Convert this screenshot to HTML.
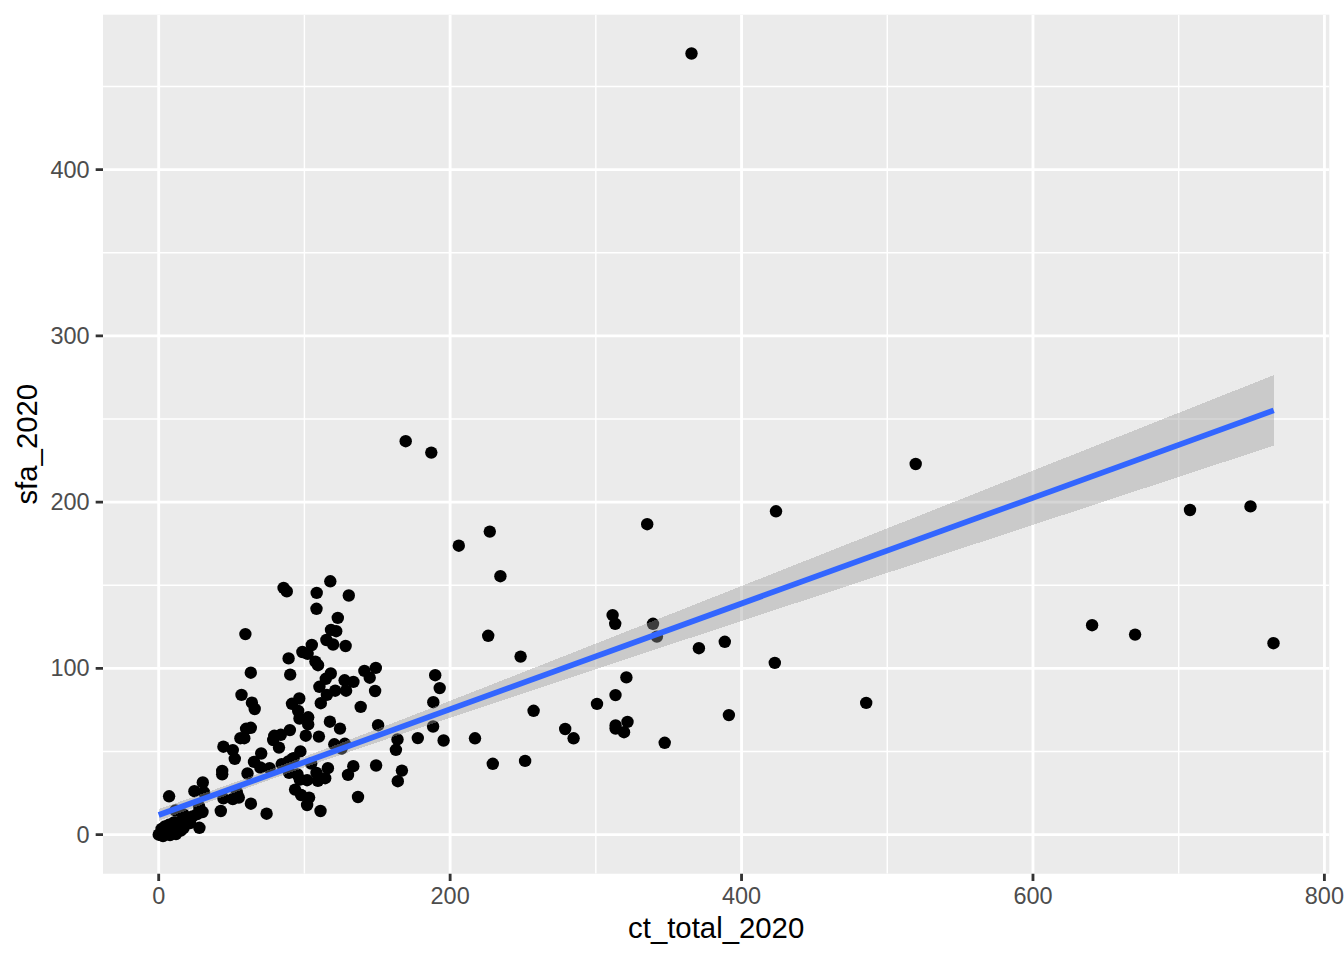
<!DOCTYPE html><html><head><meta charset="utf-8"><style>html,body{margin:0;padding:0;background:#fff;}svg{display:block;}text{font-family:"Liberation Sans",sans-serif;}</style></head><body>
<svg width="1344" height="960" viewBox="0 0 1344 960">
<rect x="0" y="0" width="1344" height="960" fill="#fff"/>
<rect x="103.0" y="14.67" width="1226.33" height="859.08" fill="#EBEBEB"/>
<clipPath id="c"><rect x="103.0" y="14.67" width="1226.33" height="859.08"/></clipPath>
<g clip-path="url(#c)">
<path d="M304.41 14.67V873.75M595.84 14.67V873.75M887.27 14.67V873.75M1178.69 14.67V873.75M103.0 751.57H1329.33M103.0 585.30H1329.33M103.0 419.03H1329.33M103.0 252.75H1329.33M103.0 86.49H1329.33" stroke="#fff" stroke-width="1.42" fill="none"/>
<path d="M158.70 14.67V873.75M450.13 14.67V873.75M741.55 14.67V873.75M1032.98 14.67V873.75M1324.40 14.67V873.75M103.0 834.70H1329.33M103.0 668.43H1329.33M103.0 502.16H1329.33M103.0 335.89H1329.33M103.0 169.62H1329.33" stroke="#fff" stroke-width="2.84" fill="none"/>
<g fill="#000">
<circle cx="691.5" cy="53.5" r="6.2"/>
<circle cx="405.7" cy="441.2" r="6.2"/>
<circle cx="431.3" cy="452.6" r="6.2"/>
<circle cx="458.8" cy="545.7" r="6.2"/>
<circle cx="489.8" cy="531.6" r="6.2"/>
<circle cx="647.2" cy="524.2" r="6.2"/>
<circle cx="776.0" cy="511.3" r="6.2"/>
<circle cx="915.7" cy="464.0" r="6.2"/>
<circle cx="1190.0" cy="510.0" r="6.2"/>
<circle cx="1250.5" cy="506.4" r="6.2"/>
<circle cx="612.6" cy="615.1" r="6.2"/>
<circle cx="615.2" cy="623.8" r="6.2"/>
<circle cx="653.0" cy="623.8" r="6.2"/>
<circle cx="656.9" cy="636.6" r="6.2"/>
<circle cx="698.9" cy="648.2" r="6.2"/>
<circle cx="724.8" cy="641.8" r="6.2"/>
<circle cx="774.8" cy="662.9" r="6.2"/>
<circle cx="626.4" cy="677.4" r="6.2"/>
<circle cx="488.2" cy="635.8" r="6.2"/>
<circle cx="520.6" cy="656.6" r="6.2"/>
<circle cx="615.5" cy="695.1" r="6.2"/>
<circle cx="597.0" cy="703.9" r="6.2"/>
<circle cx="533.6" cy="710.8" r="6.2"/>
<circle cx="565.2" cy="729.0" r="6.2"/>
<circle cx="573.6" cy="738.3" r="6.2"/>
<circle cx="615.6" cy="725.4" r="6.2"/>
<circle cx="615.6" cy="728.6" r="6.2"/>
<circle cx="627.5" cy="721.9" r="6.2"/>
<circle cx="624.0" cy="732.2" r="6.2"/>
<circle cx="664.7" cy="742.8" r="6.2"/>
<circle cx="475.0" cy="738.3" r="6.2"/>
<circle cx="443.6" cy="740.5" r="6.2"/>
<circle cx="435.2" cy="675.2" r="6.2"/>
<circle cx="439.7" cy="688.1" r="6.2"/>
<circle cx="433.3" cy="702.2" r="6.2"/>
<circle cx="728.9" cy="715.1" r="6.2"/>
<circle cx="866.2" cy="702.9" r="6.2"/>
<circle cx="1092.1" cy="625.2" r="6.2"/>
<circle cx="1135.1" cy="634.6" r="6.2"/>
<circle cx="1273.5" cy="643.2" r="6.2"/>
<circle cx="245.4" cy="634.1" r="6.2"/>
<circle cx="283.6" cy="587.9" r="6.2"/>
<circle cx="286.8" cy="591.4" r="6.2"/>
<circle cx="330.3" cy="581.3" r="6.2"/>
<circle cx="316.7" cy="592.9" r="6.2"/>
<circle cx="348.8" cy="595.5" r="6.2"/>
<circle cx="316.5" cy="608.8" r="6.2"/>
<circle cx="337.8" cy="617.9" r="6.2"/>
<circle cx="331.0" cy="629.9" r="6.2"/>
<circle cx="336.2" cy="631.2" r="6.2"/>
<circle cx="326.4" cy="640.0" r="6.2"/>
<circle cx="333.1" cy="644.5" r="6.2"/>
<circle cx="345.6" cy="646.0" r="6.2"/>
<circle cx="311.8" cy="645.0" r="6.2"/>
<circle cx="288.6" cy="658.4" r="6.2"/>
<circle cx="302.4" cy="652.0" r="6.2"/>
<circle cx="307.6" cy="653.8" r="6.2"/>
<circle cx="315.4" cy="661.6" r="6.2"/>
<circle cx="318.0" cy="665.2" r="6.2"/>
<circle cx="250.8" cy="672.7" r="6.2"/>
<circle cx="290.2" cy="674.6" r="6.2"/>
<circle cx="330.8" cy="673.5" r="6.2"/>
<circle cx="325.8" cy="678.8" r="6.2"/>
<circle cx="319.4" cy="686.8" r="6.2"/>
<circle cx="326.9" cy="694.9" r="6.2"/>
<circle cx="335.2" cy="690.7" r="6.2"/>
<circle cx="344.6" cy="680.3" r="6.2"/>
<circle cx="353.4" cy="681.9" r="6.2"/>
<circle cx="346.1" cy="690.7" r="6.2"/>
<circle cx="364.4" cy="670.9" r="6.2"/>
<circle cx="369.7" cy="677.7" r="6.2"/>
<circle cx="320.8" cy="703.2" r="6.2"/>
<circle cx="360.7" cy="706.9" r="6.2"/>
<circle cx="241.5" cy="694.9" r="6.2"/>
<circle cx="251.9" cy="702.7" r="6.2"/>
<circle cx="254.7" cy="709.0" r="6.2"/>
<circle cx="299.3" cy="698.5" r="6.2"/>
<circle cx="292.0" cy="703.8" r="6.2"/>
<circle cx="298.2" cy="711.0" r="6.2"/>
<circle cx="375.8" cy="667.9" r="6.2"/>
<circle cx="375.1" cy="691.0" r="6.2"/>
<circle cx="250.8" cy="727.8" r="6.2"/>
<circle cx="246.1" cy="728.8" r="6.2"/>
<circle cx="240.4" cy="738.2" r="6.2"/>
<circle cx="244.3" cy="738.2" r="6.2"/>
<circle cx="289.9" cy="730.1" r="6.2"/>
<circle cx="280.8" cy="734.8" r="6.2"/>
<circle cx="274.3" cy="735.8" r="6.2"/>
<circle cx="273.2" cy="740.0" r="6.2"/>
<circle cx="279.0" cy="747.6" r="6.2"/>
<circle cx="261.2" cy="753.5" r="6.2"/>
<circle cx="254.0" cy="761.9" r="6.2"/>
<circle cx="299.5" cy="718.5" r="6.2"/>
<circle cx="308.2" cy="717.3" r="6.2"/>
<circle cx="308.2" cy="724.4" r="6.2"/>
<circle cx="329.9" cy="721.7" r="6.2"/>
<circle cx="340.0" cy="728.6" r="6.2"/>
<circle cx="305.8" cy="735.7" r="6.2"/>
<circle cx="318.9" cy="736.6" r="6.2"/>
<circle cx="334.3" cy="744.3" r="6.2"/>
<circle cx="344.8" cy="743.8" r="6.2"/>
<circle cx="223.4" cy="746.7" r="6.2"/>
<circle cx="232.8" cy="750.1" r="6.2"/>
<circle cx="234.8" cy="758.8" r="6.2"/>
<circle cx="222.2" cy="771.0" r="6.2"/>
<circle cx="222.2" cy="774.3" r="6.2"/>
<circle cx="260.3" cy="767.5" r="6.2"/>
<circle cx="269.6" cy="768.2" r="6.2"/>
<circle cx="247.5" cy="773.5" r="6.2"/>
<circle cx="300.4" cy="751.4" r="6.2"/>
<circle cx="293.7" cy="758.1" r="6.2"/>
<circle cx="281.7" cy="764.1" r="6.2"/>
<circle cx="288.4" cy="761.5" r="6.2"/>
<circle cx="311.2" cy="763.5" r="6.2"/>
<circle cx="289.1" cy="772.9" r="6.2"/>
<circle cx="299.8" cy="779.6" r="6.2"/>
<circle cx="307.1" cy="780.2" r="6.2"/>
<circle cx="316.5" cy="772.9" r="6.2"/>
<circle cx="317.9" cy="780.9" r="6.2"/>
<circle cx="325.2" cy="778.2" r="6.2"/>
<circle cx="327.9" cy="768.2" r="6.2"/>
<circle cx="295.1" cy="789.6" r="6.2"/>
<circle cx="301.1" cy="795.0" r="6.2"/>
<circle cx="309.1" cy="797.6" r="6.2"/>
<circle cx="307.1" cy="805.0" r="6.2"/>
<circle cx="320.5" cy="811.0" r="6.2"/>
<circle cx="353.3" cy="766.2" r="6.2"/>
<circle cx="348.0" cy="774.9" r="6.2"/>
<circle cx="376.1" cy="765.5" r="6.2"/>
<circle cx="358.0" cy="797.0" r="6.2"/>
<circle cx="250.9" cy="803.7" r="6.2"/>
<circle cx="266.6" cy="813.7" r="6.2"/>
<circle cx="220.8" cy="811.0" r="6.2"/>
<circle cx="223.4" cy="798.3" r="6.2"/>
<circle cx="232.8" cy="799.0" r="6.2"/>
<circle cx="238.8" cy="797.6" r="6.2"/>
<circle cx="292.4" cy="759.0" r="6.2"/>
<circle cx="202.8" cy="782.5" r="6.2"/>
<circle cx="194.4" cy="791.2" r="6.2"/>
<circle cx="204.0" cy="792.3" r="6.2"/>
<circle cx="236.9" cy="792.5" r="6.2"/>
<circle cx="169.1" cy="796.3" r="6.2"/>
<circle cx="158.7" cy="834.7" r="6.2"/>
<circle cx="161.6" cy="829.0" r="6.2"/>
<circle cx="163.5" cy="833.2" r="6.2"/>
<circle cx="165.0" cy="826.5" r="6.2"/>
<circle cx="168.5" cy="830.0" r="6.2"/>
<circle cx="169.0" cy="824.8" r="6.2"/>
<circle cx="173.8" cy="831.3" r="6.2"/>
<circle cx="174.0" cy="822.5" r="6.2"/>
<circle cx="178.0" cy="827.0" r="6.2"/>
<circle cx="180.8" cy="830.5" r="6.2"/>
<circle cx="180.8" cy="821.1" r="6.2"/>
<circle cx="183.6" cy="828.1" r="6.2"/>
<circle cx="185.0" cy="824.0" r="6.2"/>
<circle cx="187.8" cy="818.8" r="6.2"/>
<circle cx="190.0" cy="823.0" r="6.2"/>
<circle cx="192.5" cy="816.4" r="6.2"/>
<circle cx="197.2" cy="814.1" r="6.2"/>
<circle cx="175.5" cy="810.5" r="6.2"/>
<circle cx="199.4" cy="827.8" r="6.2"/>
<circle cx="202.5" cy="812.0" r="6.2"/>
<circle cx="199.1" cy="806.5" r="6.2"/>
<circle cx="378.1" cy="725.2" r="6.2"/>
<circle cx="397.5" cy="739.4" r="6.2"/>
<circle cx="395.9" cy="749.8" r="6.2"/>
<circle cx="417.8" cy="738.1" r="6.2"/>
<circle cx="401.9" cy="770.6" r="6.2"/>
<circle cx="397.8" cy="781.2" r="6.2"/>
<circle cx="492.8" cy="763.8" r="6.2"/>
<circle cx="525.1" cy="760.9" r="6.2"/>
<circle cx="500.4" cy="576.2" r="6.2"/>
<circle cx="163.0" cy="836.0" r="6.2"/>
<circle cx="170.0" cy="835.0" r="6.2"/>
<circle cx="176.0" cy="834.0" r="6.2"/>
<circle cx="183.5" cy="814.5" r="6.2"/>
<circle cx="341.5" cy="748.5" r="6.2"/>
<circle cx="433.1" cy="726.5" r="6.2"/>
<circle cx="297.5" cy="774.5" r="6.2"/>
</g>
<path d="M158.70 809.06 L172.64 804.24 L186.57 799.39 L200.51 794.50 L214.45 789.58 L228.39 784.62 L242.32 779.61 L256.26 774.55 L270.20 769.46 L284.14 764.31 L298.07 759.13 L312.01 753.91 L325.95 748.65 L339.89 743.37 L353.82 738.05 L367.76 732.71 L381.70 727.34 L395.64 721.96 L409.57 716.57 L423.51 711.15 L437.45 705.73 L451.39 700.29 L465.32 694.85 L479.26 689.40 L493.20 683.94 L507.14 678.47 L521.07 673.00 L535.01 667.52 L548.95 662.04 L562.89 656.55 L576.82 651.07 L590.76 645.57 L604.70 640.08 L618.64 634.58 L632.57 629.08 L646.51 623.58 L660.45 618.08 L674.39 612.57 L688.32 607.07 L702.26 601.56 L716.20 596.05 L730.14 590.54 L744.07 585.03 L758.01 579.51 L771.95 574.00 L785.89 568.48 L799.82 562.97 L813.76 557.45 L827.70 551.93 L841.63 546.41 L855.57 540.90 L869.51 535.38 L883.45 529.86 L897.38 524.34 L911.32 518.82 L925.26 513.29 L939.20 507.77 L953.13 502.25 L967.07 496.73 L981.01 491.20 L994.95 485.68 L1008.88 480.16 L1022.82 474.63 L1036.76 469.11 L1050.70 463.58 L1064.63 458.06 L1078.57 452.54 L1092.51 447.01 L1106.45 441.48 L1120.38 435.96 L1134.32 430.43 L1148.26 424.91 L1162.20 419.38 L1176.13 413.85 L1190.07 408.33 L1204.01 402.80 L1217.95 397.27 L1231.88 391.75 L1245.82 386.22 L1259.76 380.69 L1273.70 375.16 L1273.70 445.65 L1259.76 450.24 L1245.82 454.82 L1231.88 459.41 L1217.95 464.00 L1204.01 468.59 L1190.07 473.17 L1176.13 477.76 L1162.20 482.35 L1148.26 486.94 L1134.32 491.53 L1120.38 496.12 L1106.45 500.71 L1092.51 505.29 L1078.57 509.88 L1064.63 514.47 L1050.70 519.06 L1036.76 523.65 L1022.82 528.24 L1008.88 532.84 L994.95 537.43 L981.01 542.02 L967.07 546.61 L953.13 551.20 L939.20 555.79 L925.26 560.39 L911.32 564.98 L897.38 569.57 L883.45 574.17 L869.51 578.76 L855.57 583.36 L841.63 587.96 L827.70 592.55 L813.76 597.15 L799.82 601.75 L785.89 606.35 L771.95 610.95 L758.01 615.55 L744.07 620.15 L730.14 624.75 L716.20 629.36 L702.26 633.96 L688.32 638.57 L674.39 643.17 L660.45 647.78 L646.51 652.40 L632.57 657.01 L618.64 661.62 L604.70 666.24 L590.76 670.86 L576.82 675.48 L562.89 680.11 L548.95 684.74 L535.01 689.37 L521.07 694.01 L507.14 698.65 L493.20 703.30 L479.26 707.96 L465.32 712.62 L451.39 717.29 L437.45 721.97 L423.51 726.66 L409.57 731.36 L395.64 736.08 L381.70 740.81 L367.76 745.56 L353.82 750.34 L339.89 755.14 L325.95 759.96 L312.01 764.82 L298.07 769.71 L284.14 774.65 L270.20 779.62 L256.26 784.64 L242.32 789.70 L228.39 794.80 L214.45 799.95 L200.51 805.14 L186.57 810.37 L172.64 815.64 L158.70 820.93Z" fill="#999999" fill-opacity="0.4" shape-rendering="crispEdges"/>
<path d="M158.70 815.00L1273.70 410.41" stroke="#3366FF" stroke-width="5.69" fill="none"/>
</g>
<path d="M95.67 834.70H103.0M95.67 668.43H103.0M95.67 502.16H103.0M95.67 335.89H103.0M95.67 169.62H103.0M158.70 873.75V881.08M450.13 873.75V881.08M741.55 873.75V881.08M1032.98 873.75V881.08M1324.40 873.75V881.08" stroke="#333333" stroke-width="2.84" fill="none"/>
<g fill="#4D4D4D" font-size="23.47px">
<text x="89.6" y="842.75" text-anchor="end">0</text>
<text x="89.6" y="676.48" text-anchor="end">100</text>
<text x="89.6" y="510.21" text-anchor="end">200</text>
<text x="89.6" y="343.94" text-anchor="end">300</text>
<text x="89.6" y="177.67" text-anchor="end">400</text>
<text x="158.70" y="903.5" text-anchor="middle">0</text>
<text x="450.13" y="903.5" text-anchor="middle">200</text>
<text x="741.55" y="903.5" text-anchor="middle">400</text>
<text x="1032.98" y="903.5" text-anchor="middle">600</text>
<text x="1324.40" y="903.5" text-anchor="middle">800</text>
</g>
<g fill="#000" font-size="29.33px">
<text x="716.16" y="938.4" text-anchor="middle">ct_total_2020</text>
<text transform="translate(37.2 444.21) rotate(-90)" text-anchor="middle">sfa_2020</text>
</g>
</svg></body></html>
